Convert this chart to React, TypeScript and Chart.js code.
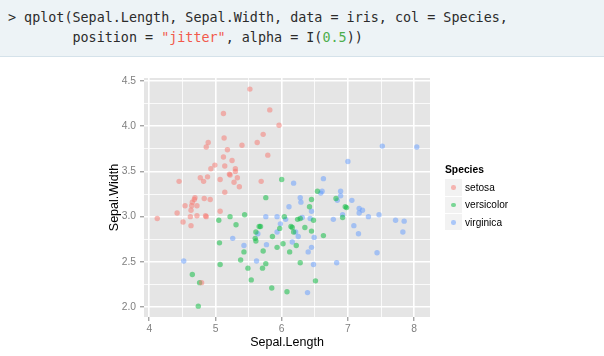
import React, { useEffect, useRef } from "react";
import { Chart, registerables } from "chart.js";

Chart.register(...registerables);

// ---- data (jittered iris) ----
const setosaX = [5.52, 5.82, 5.96, 5.12, 5.72, 5.13, 5.63, 4.89, 4.86, 5.40, 5.18, 5.79, 5.12, 5.25, 4.99, 5.14, 4.93, 5.30, 5.30, 5.21, 5.22, 4.77, 4.88, 5.07, 5.69, 4.82, 4.45, 5.33, 5.28, 5.36, 5.14, 4.69, 4.68, 4.65, 4.64, 4.83, 4.92, 4.72, 4.54, 4.42, 4.63, 4.62, 4.72, 4.85, 4.86, 5.07, 4.12, 4.51, 4.63, 4.79];
const setosaY = [4.41, 4.18, 4.01, 4.14, 3.91, 3.87, 3.82, 3.82, 3.77, 3.79, 3.74, 3.68, 3.66, 3.62, 3.57, 3.56, 3.53, 3.53, 3.50, 3.47, 3.46, 3.43, 3.44, 3.41, 3.39, 3.39, 3.39, 3.43, 3.38, 3.33, 3.27, 3.21, 3.19, 3.16, 3.12, 3.20, 3.19, 3.12, 3.12, 3.04, 3.07, 3.00, 3.01, 3.01, 3.00, 3.06, 2.98, 2.94, 2.90, 2.27];

const versicolorX = [5.05, 5.22, 5.31, 5.44, 5.06, 5.43, 5.38, 5.07, 4.65, 4.76, 4.74, 5.76, 6.45, 6.82, 6.42, 6.04, 6.24, 6.28, 6.48, 5.66, 5.68, 5.97, 6.14, 6.16, 6.35, 6.18, 5.61, 6.45, 5.86, 6.63, 5.60, 5.61, 6.02, 6.22, 5.93, 5.72, 6.12, 5.76, 6.28, 5.49, 5.71, 5.54, 6.51, 5.85, 6.08, 6.00, 6.54, 6.92, 6.96, 6.98];
const versicolorY = [2.96, 3.00, 2.91, 3.02, 2.71, 2.61, 2.52, 2.47, 2.36, 2.27, 2.01, 3.21, 3.19, 3.20, 3.11, 3.00, 2.97, 2.98, 2.96, 2.89, 2.89, 2.87, 2.89, 2.88, 2.88, 2.83, 2.83, 2.84, 2.78, 2.79, 2.76, 2.73, 2.70, 2.68, 2.66, 2.62, 2.61, 2.48, 2.49, 2.43, 2.43, 2.30, 2.29, 2.21, 2.17, 3.41, 3.28, 2.99, 3.11, 3.10];

const virginicaX = [4.52, 5.26, 5.43, 6.18, 6.63, 6.28, 6.29, 6.59, 6.61, 6.89, 6.89, 7.52, 8.04, 7.00, 7.06, 6.11, 6.45, 5.76, 5.93, 6.06, 5.98, 6.31, 6.43, 6.78, 6.21, 5.64, 5.93, 6.25, 6.49, 6.16, 5.77, 6.45, 6.40, 5.62, 6.83, 6.48, 6.39, 7.44, 7.16, 7.09, 6.92, 7.17, 7.22, 7.17, 7.31, 7.47, 7.72, 7.85, 7.83, 6.84];
const virginicaY = [2.51, 2.76, 2.68, 3.37, 3.42, 3.21, 3.16, 3.26, 3.28, 3.28, 3.23, 3.78, 3.77, 3.61, 3.18, 3.11, 3.06, 3.00, 3.00, 2.97, 2.92, 2.99, 2.98, 2.97, 2.83, 2.81, 2.83, 2.78, 2.77, 2.72, 2.69, 2.66, 2.61, 2.51, 2.49, 2.47, 2.16, 2.60, 2.81, 2.90, 3.02, 3.09, 3.07, 3.04, 3.00, 3.02, 2.96, 2.95, 2.83, 3.18];

const speciesNames = ["setosa", "versicolor", "virginica"];
const speciesColors = ["rgba(248,118,109,0.5)", "rgba(0,186,56,0.5)", "rgba(97,156,255,0.5)"];

const xMajorTicks = [4, 5, 6, 7, 8];
const xMinorTicks = [4.5, 5.5, 6.5, 7.5];
const yMajorTicks = [2.0, 2.5, 3.0, 3.5, 4.0, 4.5];
const yMinorTicks = [2.25, 2.75, 3.25, 3.75, 4.25];
const xRange = [3.92, 8.24];
const yRange = [1.89, 4.533];

const toPoints = (xs: number[], ys: number[]) => xs.map((x, i) => ({ x, y: ys[i] }));

const panelBg = {
  id: "panelBg",
  beforeDraw(chart: any) {
    const { ctx, chartArea } = chart;
    if (!chartArea) return;
    ctx.save();
    ctx.fillStyle = "#e5e5e5";
    ctx.fillRect(chartArea.left, chartArea.top, chartArea.right - chartArea.left, chartArea.bottom - chartArea.top);
    ctx.restore();
  },
};

function App() {
  const ref = useRef<HTMLCanvasElement | null>(null);

  useEffect(() => {
    if (!ref.current) return;
    const isMajor = (v: number, majors: number[]) => majors.some((m) => Math.abs(m - v) < 1e-6);
    const tickFont = { family: "'Liberation Sans', Arial, sans-serif", size: 10.3 };
    const titleFont = { family: "'Liberation Sans', Arial, sans-serif", size: 12.5 };
    const chart = new Chart(ref.current, {
      type: "scatter",
      data: {
        datasets: [
          { label: speciesNames[0], data: toPoints(setosaX, setosaY), backgroundColor: speciesColors[0] },
          { label: speciesNames[1], data: toPoints(versicolorX, versicolorY), backgroundColor: speciesColors[1] },
          { label: speciesNames[2], data: toPoints(virginicaX, virginicaY), backgroundColor: speciesColors[2] },
        ],
      },
      options: {
        animation: false,
        responsive: false,
        devicePixelRatio: 1,
        events: [],
        elements: { point: { radius: 2.7, borderWidth: 0, pointStyle: "circle" } },
        layout: { padding: { left: 100, right: 174, top: 18, bottom: 6 } },
        plugins: { legend: { display: false }, tooltip: { enabled: false } },
        scales: {
          x: {
            type: "linear",
            min: xRange[0],
            max: xRange[1],
            afterFit: (s: any) => { s.height = 33; },
            afterBuildTicks: (s: any) => {
              s.ticks = [...xMajorTicks, ...xMinorTicks].sort((a, b) => a - b).map((v) => ({ value: v }));
            },
            border: { display: false },
            grid: {
              color: "#ffffff",
              lineWidth: (c: any) => (isMajor(c.tick?.value, xMajorTicks) ? 1.6 : 0.8),
              drawTicks: true,
              tickLength: 4,
              tickWidth: 1,
              tickColor: (c: any) => (isMajor(c.tick?.value, xMajorTicks) ? "#7f7f7f" : "rgba(0,0,0,0)"),
            },
            ticks: {
              padding: 2,
              color: "#7f7f7f",
              font: tickFont,
              maxRotation: 0,
              autoSkip: false,
              callback: (v: any) => (isMajor(Number(v), xMajorTicks) ? String(Number(v)) : ""),
            },
            title: { display: true, text: "Sepal.Length", color: "#000000", font: titleFont, padding: { top: 0, bottom: 0 } },
          },
          y: {
            type: "linear",
            min: yRange[0],
            max: yRange[1],
            afterFit: (s: any) => { s.width = 44; },
            afterBuildTicks: (s: any) => {
              s.ticks = [...yMajorTicks, ...yMinorTicks].sort((a, b) => a - b).map((v) => ({ value: v }));
            },
            border: { display: false },
            grid: {
              color: "#ffffff",
              lineWidth: (c: any) => (isMajor(c.tick?.value, yMajorTicks) ? 1.6 : 0.8),
              drawTicks: true,
              tickLength: 4,
              tickWidth: 1,
              tickColor: (c: any) => (isMajor(c.tick?.value, yMajorTicks) ? "#7f7f7f" : "rgba(0,0,0,0)"),
            },
            ticks: {
              padding: 4,
              color: "#7f7f7f",
              font: tickFont,
              autoSkip: false,
              callback: (v: any) => (isMajor(Number(v), yMajorTicks) ? Number(v).toFixed(1) : ""),
            },
            title: { display: true, text: "Sepal.Width", color: "#000000", font: titleFont, padding: { top: 7, bottom: 0 } },
          },
        },
      },
      plugins: [panelBg],
    } as any);
    return () => chart.destroy();
  }, []);

  const mono = "'DejaVu Sans Mono', 'Liberation Mono', monospace";
  return (
    <div style={{ position: "fixed", left: 0, top: 0, width: 604, height: 356, background: "#ffffff", overflow: "hidden" }}>
      <div
        style={{
          position: "absolute", left: 0, top: 0, width: 604, height: 57,
          background: "#edf3f6", borderBottom: "1px solid #d5e2ea", boxSizing: "border-box",
        }}
      >
        <pre
          style={{
            margin: 0, padding: "8px 0 0 8px", fontFamily: mono, fontSize: 13.4, lineHeight: "20px", color: "#2b2b2b",
          }}
        >
          {"> qplot(Sepal.Length, Sepal.Width, data = iris, col = Species,\n        position = "}
          <span style={{ color: "#f2594b" }}>"jitter"</span>
          {", alpha = I("}
          <span style={{ color: "#4cae4c" }}>0.5</span>
          {"))"}
        </pre>
      </div>
      <canvas ref={ref} width={604} height={296} style={{ position: "absolute", left: 0, top: 60, width: 604, height: 296 }} />
      <div style={{ position: "absolute", left: 445, top: 162, fontFamily: "'Liberation Sans', Arial, sans-serif" }}>
        <div style={{ fontWeight: "bold", fontSize: 10.3, lineHeight: "16px", color: "#000" }}>Species</div>
        {speciesNames.map((n, i) => (
          <div key={n} style={{ display: "flex", alignItems: "center", height: 17.3, marginTop: i === 0 ? 1 : 0 }}>
            <div style={{ width: 17, height: 16.5, background: "#f2f2f2", display: "flex", alignItems: "center", justifyContent: "center" }}>
              <div style={{ width: 4.6, height: 4.6, borderRadius: "50%", background: speciesColors[i] }} />
            </div>
            <div style={{ marginLeft: 3, fontSize: 10.1, color: "#000" }}>{n}</div>
          </div>
        ))}
      </div>
    </div>
  );
}

export default App;
